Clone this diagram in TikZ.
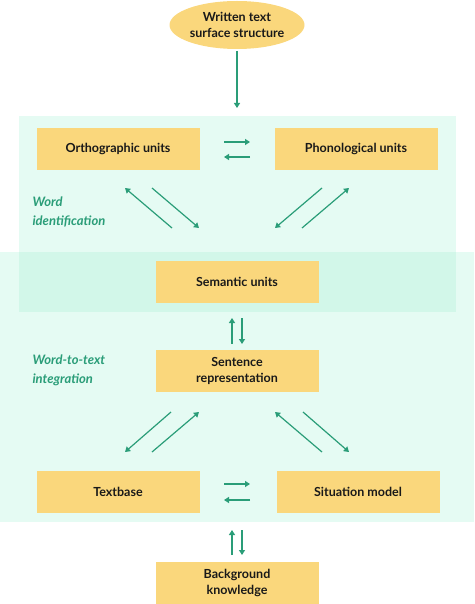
\documentclass[tikz,border=0pt]{standalone}
\usepackage{fontspec}
\setmainfont{Lato}
\usetikzlibrary{arrows.meta,shapes.geometric}
\definecolor{boxy}{HTML}{FAD77C}
\definecolor{teal1}{HTML}{2A9D78}
\definecolor{panelA}{HTML}{E5FBF3}
\definecolor{panelB}{HTML}{E5FBF3}
\definecolor{panelC}{HTML}{D2F7E9}
\tikzset{
  box/.style={fill=boxy, minimum width=163pt, minimum height=42pt, align=center, font=\bfseries\fontsize{12.5}{16}\selectfont, text=black!90},
  arr/.style={draw=teal1, line width=1.2pt, -{Triangle[length=5pt,width=6pt]}},
  lbl/.style={text=teal1, font=\bfseries\itshape\fontsize{13}{19}\selectfont, align=left, anchor=west}
}
\begin{document}
\begin{tikzpicture}[x=1pt,y=-1pt]
\useasboundingbox (0,0) rectangle (474,604);
% panels
\fill[panelA] (19,116) rectangle (456,312);
\fill[panelB] (0,252) rectangle (474,522);
\fill[panelC] (19,252) rectangle (456,312);
% nodes
\node[ellipse, fill=boxy, minimum width=135pt, minimum height=48pt, inner sep=0pt, align=center, font=\bfseries\fontsize{12.5}{16}\selectfont, text=black!90] (wt) at (237,25) {Written text\\surface structure};
\node[box] (orth) at (118,149) {Orthographic units};
\node[box] (phon) at (356,149) {Phonological units};
\node[box] (sem) at (237,282) {Semantic units};
\node[box] (sent) at (237,371) {Sentence\\representation};
\node[box] (tb) at (118,492) {Textbase};
\node[box] (sit) at (358,492) {Situation model};
\node[box] (bk) at (237,583) {Background\\knowledge};
% labels
\node[lbl] (wid) at (29,212) {Word\\identification};
\node[lbl] (wti) at (29,370) {Word-to-text\\integration};
% top arrow
\coordinate (a0) at (237,51);
\coordinate (a1) at (237,108);
\draw[arr] (a0) -- (a1);
% orth <-> phon
\coordinate (h1) at (224,142); \coordinate (h2) at (250,142);
\coordinate (h3) at (250,157); \coordinate (h4) at (224,157);
\draw[arr] (h1) -- (h2);
\draw[arr] (h3) -- (h4);
% upper left diagonals
\coordinate (d1) at (172,228); \coordinate (d2) at (125,188);
\coordinate (d3) at (152,188); \coordinate (d4) at (199,228);
\draw[arr] (d1) -- (d2);
\draw[arr] (d3) -- (d4);
% upper right diagonals
\coordinate (e1) at (302,228); \coordinate (e2) at (349,188);
\coordinate (e3) at (322,188); \coordinate (e4) at (275,228);
\draw[arr] (e1) -- (e2);
\draw[arr] (e3) -- (e4);
% sem <-> sent
\coordinate (v1) at (232,344); \coordinate (v2) at (232,318);
\coordinate (v3) at (242,318); \coordinate (v4) at (242,344);
\draw[arr] (v1) -- (v2);
\draw[arr] (v3) -- (v4);
% lower left diagonals
\coordinate (f1) at (171,412); \coordinate (f2) at (125,452);
\coordinate (f3) at (152,452); \coordinate (f4) at (199,412);
\draw[arr] (f1) -- (f2);
\draw[arr] (f3) -- (f4);
% lower right diagonals
\coordinate (g1) at (322,452); \coordinate (g2) at (275,412);
\coordinate (g3) at (303,412); \coordinate (g4) at (349,452);
\draw[arr] (g1) -- (g2);
\draw[arr] (g3) -- (g4);
% tb <-> sit
\coordinate (k1) at (224,484); \coordinate (k2) at (250,484);
\coordinate (k3) at (250,500); \coordinate (k4) at (224,500);
\draw[arr] (k1) -- (k2);
\draw[arr] (k3) -- (k4);
% sem/tb <-> bk
\coordinate (m1) at (232,555); \coordinate (m2) at (232,530);
\coordinate (m3) at (242,530); \coordinate (m4) at (242,555);
\draw[arr] (m1) -- (m2);
\draw[arr] (m3) -- (m4);
\end{tikzpicture}
\end{document}
